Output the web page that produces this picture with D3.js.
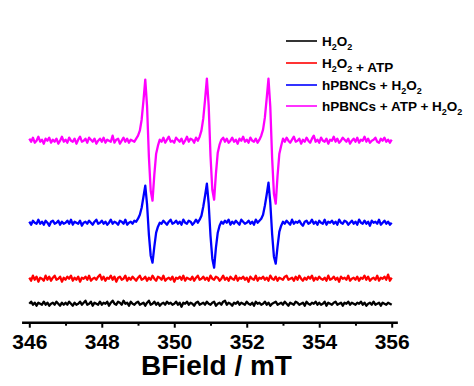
<!DOCTYPE html>
<html lang="en">
<head>
  <meta charset="UTF-8">
  <title>EPR spectra</title>
  <script src="https://d3js.org/d3.v7.min.js"></script>
  <style>
    body { margin: 0; background: #fff; font-family: "Liberation Sans", Arial, sans-serif; }
    .trace { fill: none; stroke-width: 2.3px; stroke-linejoin: round; }
    .axis text { font-size: 21px; font-weight: bold; fill: #000; }
    .axis line { stroke: #000; stroke-width: 2px; }
    .legend text { font-size: 13.5px; font-weight: bold; }
  </style>
</head>
<body>
  <svg id="chart" width="474" height="386"></svg>
  <script>
    // field sampling (mT)
    const fieldStart = 346, fieldStep = 0.05;

    const seriesNames = ["H2O2", "H2O2 + ATP", "hPBNCs + H2O2", "hPBNCs + ATP + H2O2"];
    const seriesColors = ["#000000", "#ff0000", "#0000ff", "#ff00ff"];
    // vertical stacking offset of each trace (a.u.)
    const offsets = [19, 44, 100, 182];

    const black = [
      0,2,-1,1,-2,1,0,-1,2,-1,1,-2,0,1,-1,2,0,-2,1,-1,
      1,-1,2,0,-2,1,-1,0,2,-1,1,3,-1,0,2,-2,1,0,-1,2,
      -1,1,0,2,-2,1,3,0,-1,2,1,-1,3,0,1,-2,2,0,-1,1,
      2,-1,0,1,-2,1,3,-1,0,2,-1,1,-2,0,1,-1,2,0,1,-1,
      0,2,-1,1,-3,1,0,2,-1,1,0,-2,1,2,-1,0,1,-1,2,0,
      -1,1,2,-2,0,1,-1,2,3,-1,1,0,-2,1,0,2,-1,1,0,-1,
      2,0,-1,1,-2,2,0,1,-1,0,2,-1,1,-2,0,1,2,-1,0,1,
      -1,2,0,-2,1,0,-1,2,1,-1,0,1,-2,2,0,-1,1,0,2,-1,
      1,-1,0,2,-2,1,0,-1,1,2,-1,0,1,-2,1,0,2,-1,1,0,
      -1,1,0,2,-1,1,-2,0,1,-1,2,-1,0,1,-2,1,0,-1,1,0,
      -1
    ];
    const red = [
      1,-2,3,-1,2,-3,1,0,-2,3,-1,2,-2,1,3,-1,0,2,-3,1,
      -1,2,0,3,-2,1,-1,2,-3,1,0,2,-1,3,-2,0,1,-1,2,4,
      -1,2,-2,1,0,3,-1,2,-3,1,2,-1,0,3,-2,1,-1,2,0,-2,
      1,3,-1,0,2,-2,1,-1,3,0,-2,2,1,-1,3,-2,0,1,-1,2,
      -3,1,0,2,-1,3,-2,1,0,-1,2,-2,1,3,-1,0,2,-1,1,-2,
      3,0,-1,2,1,-2,0,3,-1,1,-2,2,0,-1,3,-2,1,0,2,-1,
      1,-3,2,0,-1,3,-2,1,0,2,-1,1,-2,3,0,-1,2,-2,1,0,
      -1,2,3,-1,0,1,-2,2,-1,3,0,-2,1,-1,2,0,3,-2,1,-1,
      2,0,-1,1,-2,3,-1,0,2,-1,1,-3,2,0,1,-1,3,-2,0,1,
      -1,2,-2,1,0,3,-1,2,-2,0,1,-1,3,-2,1,0,2,-1,4,-2,
      1
    ];
    const blue = [
      1,-2,2,0,-1,3,-1,1,-2,2,0,-3,1,2,-1,0,2,-2,1,-1,
      0,2,-1,3,-2,1,0,-1,2,-3,0,1,-1,2,0,-2,1,3,-1,0,
      2,-1,1,-2,0,3,-1,1,0,-2,2,1,-1,3,-2,0,1,-1,2,1,
      4,8,15,26,37,18,-12,-33,-40,-24,-10,-4,0,-1,2,0,-2,1,3,-1,
      0,2,-1,1,-2,3,0,-1,2,1,-2,0,3,0,3,7,16,27,39,19,
      -13,-36,-45,-25,-10,-3,1,-1,2,0,3,-2,1,-1,2,0,-2,3,1,-1,
      0,2,-1,1,-2,3,0,2,4,8,17,28,40,20,-11,-34,-41,-24,-9,-3,
      1,-1,2,0,-2,3,-1,1,0,2,-1,-3,1,2,-1,0,3,-1,1,-2,
      2,0,-1,3,-2,1,0,2,-1,1,-2,3,0,-1,2,1,-2,0,2,-1,
      1,-2,3,0,-1,2,-1,1,-3,2,0,1,-1,3,-2,0,2,-1,1,-2,
      0
    ];
    const magenta = [
      2,-1,3,-2,0,4,-1,1,-3,2,0,3,-2,1,-1,2,-3,0,4,-1,
      1,-2,3,0,-1,2,-3,1,4,-1,0,2,-2,3,1,-1,2,-3,0,2,
      -1,3,-2,1,0,-1,5,-2,1,2,-3,0,3,-1,2,-2,1,0,-1,2,
      5,10,21,40,61,34,-16,-50,-60,-34,-13,-5,1,-1,3,-2,1,4,-1,0,
      -2,3,1,-1,2,-3,0,4,-1,2,1,-2,3,0,4,10,22,41,62,35,
      -15,-49,-59,-33,-12,-4,1,3,-1,2,-2,0,3,-1,1,-3,2,0,4,-1,
      1,-2,3,0,-1,2,-2,1,5,11,23,42,62,34,-17,-53,-63,-35,-13,-5,
      2,-1,3,0,-2,1,4,-1,0,2,-3,1,-1,3,0,-2,2,5,-1,1,
      -2,3,0,-1,2,-3,1,0,4,-1,2,-2,0,3,1,-1,2,-3,0,2,
      -1,3,-2,1,0,4,-1,2,-2,0,1,3,-1,-2,2,0,3,-1,1,-2,
      1
    ];
    const seriesValues = [black, red, blue, magenta];

    const majorTicks = [346, 348, 350, 352, 354, 356];
    const minorTicks = [347, 349, 351, 353, 355];

    const svg = d3.select("#chart");

    const x = d3.scaleLinear().domain([346, 356]).range([29.3, 391.7]);
    const y = d3.scaleLinear().domain([0, 280]).range([322.7, 42.7]);

    const line = d3.line()
      .x((d, i) => x(fieldStart + i * fieldStep))
      .y(d => y(d));

    svg.append("g")
      .selectAll("path")
      .data(seriesValues)
      .join("path")
      .attr("class", "trace")
      .attr("stroke", (d, i) => seriesColors[i])
      .attr("d", (d, k) => line(d.map(v => v + offsets[k])));

    // x axis
    const axisY = y(0);
    svg.append("line")
      .attr("x1", x(345.8)).attr("x2", x(356.17))
      .attr("y1", axisY).attr("y2", axisY)
      .attr("stroke", "#000").attr("stroke-width", 2.6);

    svg.append("g")
      .attr("class", "axis")
      .attr("transform", `translate(0,${axisY})`)
      .call(d3.axisBottom(x).tickValues(majorTicks).tickSize(5).tickPadding(6.5).tickFormat(d3.format("d")))
      .call(g => g.select(".domain").remove());

    svg.append("g")
      .attr("class", "axis")
      .attr("transform", `translate(0,${axisY})`)
      .call(d3.axisBottom(x).tickValues(minorTicks).tickSize(3).tickFormat(""))
      .call(g => g.select(".domain").remove());

    svg.append("text")
      .attr("x", 216.5)
      .attr("y", 375)
      .attr("text-anchor", "middle")
      .style("font-size", "28px")
      .style("font-weight", "bold")
      .text("BField / mT");

    // legend
    const legendRows = [41, 63, 85, 106];
    const legend = svg.append("g").attr("class", "legend");
    seriesNames.forEach((name, i) => {
      const ly = legendRows[i];
      legend.append("line")
        .attr("x1", 286).attr("x2", 317)
        .attr("y1", ly).attr("y2", ly)
        .attr("stroke", seriesColors[i]).attr("stroke-width", 1.6);
      const t = legend.append("text").attr("x", 322).attr("y", ly + 4.5);
      // H2O2 gets subscript 2s
      const parts = name.split(/(H2O2)/);
      parts.forEach(p => {
        if (p === "H2O2") {
          t.append("tspan").text("H");
          t.append("tspan").attr("dy", 4).style("font-size", "9px").text("2");
          t.append("tspan").attr("dy", -4).text("O");
          t.append("tspan").attr("dy", 4).style("font-size", "9px").text("2");
          t.append("tspan").attr("dy", -4).text("");
        } else if (p) {
          t.append("tspan").text(p);
        }
      });
    });
  </script>
</body>
</html>
